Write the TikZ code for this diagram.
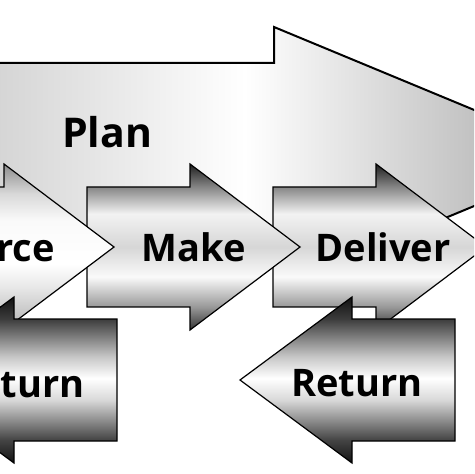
\documentclass[tikz,border=0pt]{standalone}
\usepackage{fontspec}
\setmainfont{Open Sans}
\usepackage{tikz}

% metal look of the process arrows (top dark, two bright bands, dark bottom)
\pgfdeclareverticalshading{metal}{100bp}{color(0bp)=(black!80); color(25bp)=(black!80);
  color(32bp)=(black!40); color(41bp)=(black!2); color(50bp)=(black!16);
  color(60bp)=(black!5); color(68bp)=(black!47); color(75bp)=(black!88); color(100bp)=(black!88)}
\pgfdeclareverticalshading{lightmetal}{100bp}{color(0bp)=(black!31); color(25bp)=(black!31);
  color(38bp)=(black!9); color(45bp)=(white); color(58bp)=(black!2);
  color(66bp)=(black!15); color(75bp)=(black!45); color(100bp)=(black!45)}
\pgfdeclareverticalshading{darkmetal}{100bp}{color(0bp)=(black!93); color(25bp)=(black!93);
  color(32bp)=(black!73); color(44bp)=(black!15); color(50.5bp)=(white);
  color(57bp)=(black!22); color(68.5bp)=(black!77); color(75bp)=(black!93); color(100bp)=(black!93)}

\tikzset{
  planarrow/.style={draw, line width=1pt, left color=black!23, right color=black!36, middle color=white},
  fwdarrow/.style={draw, line width=0.6pt, shade, shading=metal},
  srcarrow/.style={draw, line width=0.6pt, shade, shading=lightmetal},
  retarrow/.style={draw, line width=0.6pt, shade, shading=darkmetal},
  arrowtext/.style={font=\bfseries\fontsize{19}{19}\selectfont, anchor=base, inner sep=0pt}
}

\begin{document}
\begin{tikzpicture}[x=0.5pt, y=-0.5pt]
  \useasboundingbox (0,0) rectangle (474,474);
  \clip (0,0) rectangle (474,474);
  % plan
  \path[planarrow] (-100,63) -- (274,63) -- (274,27) -- (590,158) -- (274,289) -- (274,253) -- (-100,253) -- cycle;
  % source, make, deliver
  \path[fwdarrow] (273,187) -- (376,187) -- (376,164) -- (486,247) -- (376,330) -- (376,307) -- (273,307) -- cycle;
  \path[fwdarrow] (87,187) -- (190,187) -- (190,164) -- (300,247) -- (190,330) -- (190,307) -- (87,307) -- cycle;
  \path[srcarrow] (-99,187) -- (4,187) -- (4,164) -- (114,247) -- (4,330) -- (4,307) -- (-99,307) -- cycle;
  % returns
  \path[retarrow] (455,319) -- (352,319) -- (352,297) -- (240,380) -- (352,463) -- (352,441) -- (455,441) -- cycle;
  \path[retarrow] (117,319) -- (14,319) -- (14,297) -- (-98,380) -- (14,463) -- (14,441) -- (117,441) -- cycle;
  % labels
  \node[arrowtext, font=\bfseries\fontsize{20.5}{20.5}\selectfont] (plan) at (107,148) {Plan};
  \node[arrowtext, anchor=base east] (source) at (55,262) {Source};
  \node[arrowtext] (make)    at (194,262) {Make};
  \node[arrowtext] (deliver) at (383,262) {Deliver};
  \node[arrowtext, anchor=base east] (sreturn) at (85,397) {Return};
  \node[arrowtext] (dreturn) at (357,396) {Return};
\end{tikzpicture}
\end{document}
